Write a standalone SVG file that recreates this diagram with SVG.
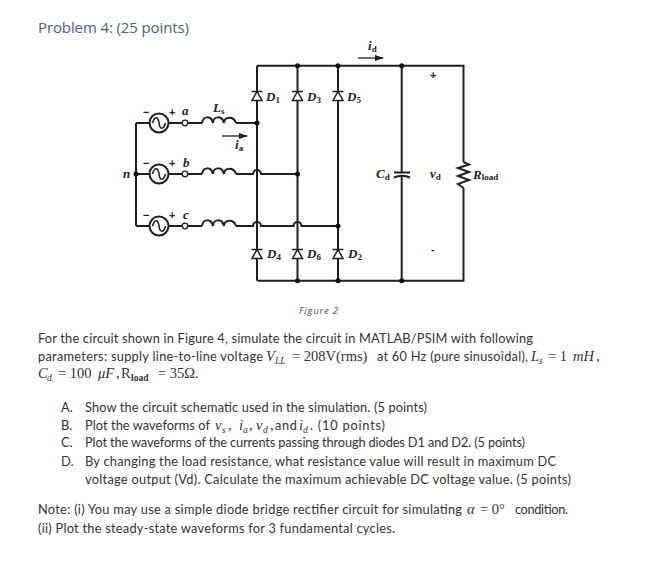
<svg xmlns="http://www.w3.org/2000/svg" xmlns:xlink="http://www.w3.org/1999/xlink" width="647" height="567" viewBox="0 0 647 567">
<style>
.w{fill:none;stroke:#1f1f1f;stroke-width:2}
.th{fill:none;stroke:#1f1f1f;stroke-width:1.3}
.dot{fill:#111}
.lab{font-family:"Liberation Serif",serif;font-style:italic;font-weight:bold;fill:#222;font-size:13px}
.sgn{font-family:"Liberation Sans",sans-serif;font-weight:bold;fill:#222;font-size:11px}
.sub{font-family:"Liberation Serif",serif;font-size:9px;fill:#222;font-weight:bold;font-style:normal}
.body{font-family:"Lato",sans-serif;font-size:12.800px;fill:#333}
.m{font-family:"Liberation Serif",serif;font-size:14.500px;fill:#333}
.mi{font-family:"Liberation Serif",serif;font-style:italic;font-size:14.500px;fill:#333}
.ms{font-family:"Liberation Serif",serif;font-style:italic;font-size:9.500px;fill:#333}
</style>
<defs>
<marker id="ah" markerUnits="userSpaceOnUse" markerWidth="9" markerHeight="6" refX="8" refY="3" orient="auto"><path d="M0,0L9,3L0,6Z" fill="#1f1f1f"/></marker>
<g id="diode"><path d="M-5.500,-4.500H5.500M0,-4.500L5,4.500H-5Z" style="fill:#fff;stroke:#1f1f1f;stroke-width:1.500"/></g>
<g id="src"><circle class="w" r="9.500" style="fill:#fff"/><path class="th" d="M-6.500,0C-4.500,-7 -1,-7 0,0C1,7 4.500,7 6.500,0" style="stroke-width:1.600"/></g>
<path id="ind" class="w" d="M0,1C1,-6 9,-7 11,1C11,-6 20,-7 22,1C22,-6 32,-6 34,1"/>
</defs>
<g id="connectors">
<path class="w" d="M257,65.700H463.500V162M463.500,188V280.700H257.500"/>
<path class="w" d="M136,123V226M136,123H149.500M136,174H149.500M136,226H149.500M168.500,123H182M168.500,174H182M168.500,226H182M188,123H202M188,174H202M188,226H202"/>
<path class="w" d="M257,65.700V280.700M297.500,65.700V280.700M338,65.700V280.700"/>
<path class="w" d="M236,123H257"/>
<path class="w" d="M236,174H253A4,4 0 0 1 261,174H297.500"/>
<path class="w" d="M236,226H253A4,4 0 0 1 261,226H293.500A4,4 0 0 1 301.500,226H338"/>
<path class="w" d="M401.700,65.700V172M401.700,176V280.700"/>
<path class="th" marker-end="url(#ah)" d="M222,136H247"/>
<path class="th" marker-end="url(#ah)" d="M358,58H383"/>
</g>
<g id="junctions">
<circle class="dot" cx="297.500" cy="65.700" r="2.500"/><circle class="dot" cx="338" cy="65.700" r="2.500"/><circle class="dot" cx="401.700" cy="65.700" r="2.500"/>
<circle class="dot" cx="257" cy="123" r="2.500"/><circle class="dot" cx="297.500" cy="174" r="2.500"/><circle class="dot" cx="338" cy="226" r="2.500"/><circle class="dot" cx="136" cy="174" r="2.500"/>
<circle class="dot" cx="297.500" cy="280.700" r="2.500"/><circle class="dot" cx="338" cy="280.700" r="2.500"/><circle class="dot" cx="401.700" cy="280.700" r="2.500"/>
</g>
<g id="source-a"><use xlink:href="#src" x="159" y="123"/><circle class="th" cx="185" cy="123" r="2.800" style="fill:#fff"/><text class="sgn" x="143" y="116">−</text><text class="sgn" x="169" y="116">+</text><text class="lab" x="182" y="115">a</text></g>
<g id="source-b"><use xlink:href="#src" x="159" y="174"/><circle class="th" cx="185" cy="174" r="2.800" style="fill:#fff"/><text class="sgn" x="143" y="167">−</text><text class="sgn" x="169" y="167">+</text><text class="lab" x="183" y="167">b</text></g>
<g id="source-c"><use xlink:href="#src" x="159" y="226"/><circle class="th" cx="185" cy="226" r="2.800" style="fill:#fff"/><text class="sgn" x="143" y="219">−</text><text class="sgn" x="169" y="219">+</text><text class="lab" x="183" y="219">c</text></g>
<g id="node-n"><text class="lab" x="123" y="178">n</text></g>
<g id="inductor-a"><use xlink:href="#ind" x="202" y="122"/><text class="lab" x="213" y="112">L<tspan class="sub" dy="2">s</tspan></text></g>
<g id="inductor-b"><use xlink:href="#ind" x="202" y="173"/></g>
<g id="inductor-c"><use xlink:href="#ind" x="202" y="225"/></g>
<g id="label-ia"><text class="lab" x="235" y="149">i<tspan class="sub" dy="2">a</tspan></text></g>
<g id="label-id"><text class="lab" x="368" y="50">i<tspan class="sub" dy="2">d</tspan></text></g>
<g id="d1"><use xlink:href="#diode" x="257" y="96"/><text class="lab" x="266" y="101">D<tspan class="sub" dy="2">1</tspan></text></g>
<g id="d3"><use xlink:href="#diode" x="297.500" y="96"/><text class="lab" x="307" y="101">D<tspan class="sub" dy="2">3</tspan></text></g>
<g id="d5"><use xlink:href="#diode" x="338" y="96"/><text class="lab" x="347" y="101">D<tspan class="sub" dy="2">5</tspan></text></g>
<g id="d4"><use xlink:href="#diode" x="257" y="254"/><text class="lab" x="267" y="258">D<tspan class="sub" dy="2">4</tspan></text></g>
<g id="d6"><use xlink:href="#diode" x="297.500" y="254"/><text class="lab" x="307" y="258">D<tspan class="sub" dy="2">6</tspan></text></g>
<g id="d2"><use xlink:href="#diode" x="338" y="254"/><text class="lab" x="348" y="258">D<tspan class="sub" dy="2">2</tspan></text></g>
<g id="cap"><path class="w" d="M394,172.500H410M394,177.500Q402,174 410,177.500"/><text class="lab" x="376" y="178">C<tspan class="sub" dy="2">d</tspan></text></g>
<g id="vd"><text class="lab" x="430" y="178">v<tspan class="sub" dy="2">d</tspan></text><text class="sgn" x="430" y="79">+</text><text class="sgn" x="431" y="253">-</text></g>
<g id="rload"><path class="w" d="M463.500,162L469,164.500L458,168L469,172L458,176L469,180L458,184L463.500,188"/><text class="lab" x="473" y="179">R<tspan class="sub" dy="1">load</tspan></text></g>
<text x="38" y="33" font-family="Open Sans,sans-serif" font-size="15" fill="#4a6288" textLength="151">Problem 4: (25 points)</text>
<text x="299" y="314" font-family="Open Sans,sans-serif" font-style="italic" font-size="9.500" fill="#44546a" textLength="39">Figure 2</text>
<text class="body" x="38" y="343" textLength="495">For the circuit shown in Figure 4, simulate the circuit in MATLAB/PSIM with following</text>
<text class="body" y="361"><tspan x="38" textLength="225">parameters: supply line-to-line voltage</tspan><tspan class="mi" x="266">V</tspan><tspan class="ms" x="275" y="364">LL</tspan><tspan class="m" x="292" y="361">= 208V(rms)</tspan><tspan x="377" textLength="151">at 60 Hz (pure sinusoidal),</tspan><tspan class="mi" x="531">L</tspan><tspan class="ms" x="539" y="364">s</tspan><tspan class="m" x="548" y="361">= 1</tspan><tspan class="mi" x="573">mH</tspan><tspan class="m" x="596">,</tspan></text>
<text class="m" y="378"><tspan class="mi" x="38">C</tspan><tspan class="ms" x="47" y="381">d</tspan><tspan x="58" y="378">= 100</tspan><tspan class="mi" x="98">μF</tspan><tspan x="116">,</tspan><tspan x="121">R</tspan><tspan font-size="9.500" font-weight="bold" x="131" y="381">load</tspan><tspan x="158" y="378">= 35Ω.</tspan></text>
<text class="body" y="412"><tspan x="61">A.</tspan><tspan x="85" textLength="342">Show the circuit schematic used in the simulation. (5 points)</tspan></text>
<text class="body" y="430"><tspan x="61">B.</tspan><tspan x="85" textLength="125">Plot the waveforms of</tspan><tspan class="mi" x="215">v</tspan><tspan class="ms" x="222" y="433">s</tspan><tspan class="m" x="228" y="430">,</tspan><tspan class="mi" x="239">i</tspan><tspan class="ms" x="243" y="433">a</tspan><tspan class="m" x="249" y="430">,</tspan><tspan class="mi" x="256">v</tspan><tspan class="ms" x="263" y="433">d</tspan><tspan class="m" x="270" y="430">,</tspan><tspan x="275" textLength="22">and</tspan><tspan class="mi" x="299">i</tspan><tspan class="ms" x="303" y="433">d</tspan><tspan x="310" y="430" textLength="75">. (10 points)</tspan></text>
<text class="body" y="447"><tspan x="61">C.</tspan><tspan x="85" textLength="440">Plot the waveforms of the currents passing through diodes D1 and D2. (5 points)</tspan></text>
<text class="body" y="466"><tspan x="61">D.</tspan><tspan x="85" textLength="471">By changing the load resistance, what resistance value will result in maximum DC</tspan></text>
<text class="body" x="85" y="484" textLength="486">voltage output (Vd). Calculate the maximum achievable DC voltage value. (5 points)</text>
<text class="body" y="514"><tspan x="38" textLength="424">Note: (i) You may use a simple diode bridge rectifier circuit for simulating</tspan><tspan class="mi" x="467">α</tspan><tspan class="m" x="480">= 0°</tspan><tspan x="515" textLength="53">condition.</tspan></text>
<text class="body" x="38" y="533" textLength="357">(ii) Plot the steady-state waveforms for 3 fundamental cycles.</text>
</svg>
